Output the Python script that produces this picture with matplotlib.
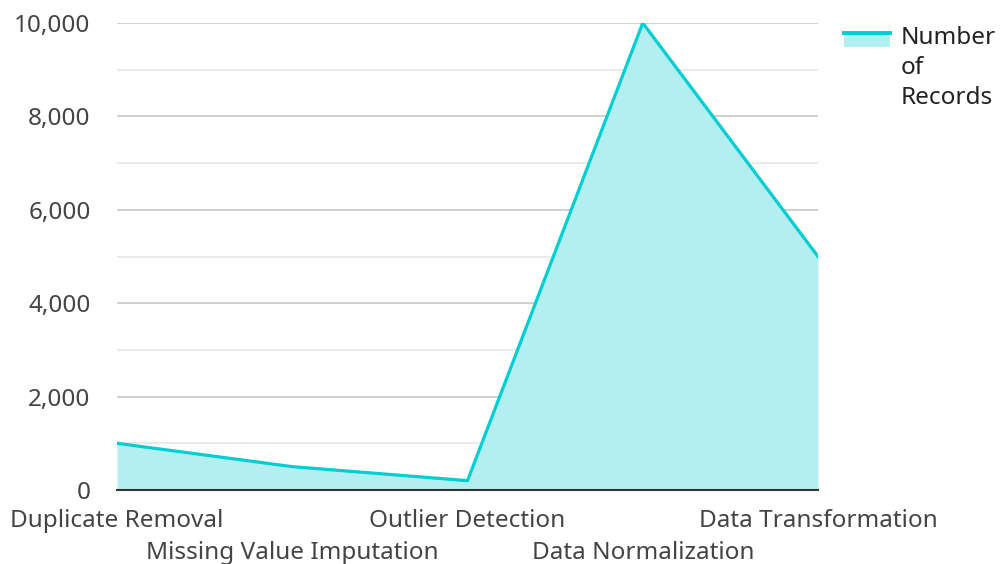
import matplotlib.pyplot as plt
from matplotlib.legend_handler import HandlerBase
from matplotlib.patches import Rectangle
from matplotlib.lines import Line2D
from matplotlib.ticker import FuncFormatter, MultipleLocator
from matplotlib.transforms import ScaledTranslation

plt.rcParams['font.family'] = ['Noto Sans', 'DejaVu Sans']

stages = ['Duplicate Removal', 'Missing Value Imputation', 'Outlier Detection',
          'Data Normalization', 'Data Transformation']
records = [1000, 500, 200, 10000, 5000]

line_color = '#00CED1'
fill_color = '#b3eff0'
text_color = '#444444'


class AreaHandler(HandlerBase):
    # swatch sits next to the first line of the wrapped label
    def create_artists(self, legend, orig_handle, xdescent, ydescent,
                       width, height, fontsize, trans):
        top = -ydescent + height * 0.8 + 22
        rect = Rectangle((-xdescent, top - 10), width, 10,
                         facecolor=fill_color, edgecolor='none', transform=trans)
        ln = Line2D([-xdescent, -xdescent + width], [top, top],
                    color=line_color, lw=2.8, transform=trans)
        return [rect, ln]


fig = plt.figure(figsize=(10.04, 5.64), dpi=100)
ax = fig.add_axes([117 / 1004, 1 - 490 / 564, (818 - 117) / 1004, (490 - 23) / 564])

x = list(range(len(stages)))
ax.fill_between(x, records, 0, color=fill_color, lw=0, zorder=2)
ax.plot(x, records, color=line_color, lw=2.3, zorder=3)

ax.set_xlim(0, len(stages) - 1)
ax.set_ylim(0, 10000)
ax.yaxis.set_major_locator(MultipleLocator(2000))
ax.yaxis.set_minor_locator(MultipleLocator(1000))
ax.yaxis.set_major_formatter(FuncFormatter(lambda v, p: f'{int(v):,}'))
ax.grid(which='major', axis='y', color='#c8c8c8', lw=1.2, zorder=1)
ax.grid(which='minor', axis='y', color='#e6e6e6', lw=1.2, zorder=1)
ax.set_axisbelow(True)

ax.set_xticks(x)
ax.set_xticklabels(stages)
ax.tick_params(axis='both', which='both', length=0, labelsize=17.5, colors=text_color)
ax.tick_params(axis='y', pad=19)
ax.tick_params(axis='x', pad=13.5)
# stagger every other category label onto a second row
for i, lbl in enumerate(ax.get_xticklabels()):
    if i % 2 == 1:
        lbl.set_transform(lbl.get_transform() + ScaledTranslation(0, -0.32, fig.dpi_scale_trans))

for s in ['top', 'right', 'left']:
    ax.spines[s].set_visible(False)
ax.spines['bottom'].set_color('#333333')
ax.spines['bottom'].set_linewidth(1.5)

handle = object()
leg = fig.legend([handle], ['Number\nof\nRecords'], handler_map={object: AreaHandler()},
                 loc='upper left', bbox_to_anchor=(822 / 1004, 1 - 4 / 564),
                 frameon=False, fontsize=17.5, handlelength=1.9, handletextpad=0.45,
                 labelcolor='#222222')
leg.get_texts()[0].set_linespacing(1.35)

fig.savefig('out.png', dpi=100)
